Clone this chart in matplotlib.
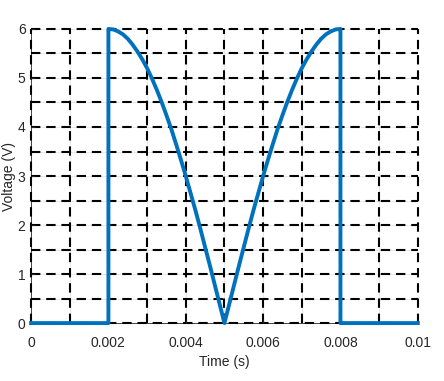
import numpy as np
import matplotlib
matplotlib.use("Agg")
import matplotlib.pyplot as plt

fall_t = [0.002, 0.002125, 0.00225, 0.002375, 0.0025, 0.002625, 0.00275,
          0.002875, 0.003, 0.003125, 0.00325, 0.003375, 0.0035, 0.003625,
          0.00375, 0.003875, 0.004, 0.004125, 0.00425, 0.004375, 0.0045,
          0.004625, 0.00475, 0.004875, 0.005]
fall_v = [6.0, 5.99, 5.95, 5.89, 5.80, 5.68, 5.54, 5.38, 5.20, 4.99, 4.76,
          4.51, 4.24, 3.96, 3.65, 3.33, 3.00, 2.65, 2.30, 1.93, 1.55, 1.17,
          0.78, 0.39, 0.0]
# rising half 0.005 s .. 0.008 s is the mirror image
rise_t = [0.01 - x for x in fall_t[::-1]]
rise_v = fall_v[::-1]

t = [0, 0.002] + fall_t + rise_t[1:] + [0.008, 0.01]
v = [0, 0] + fall_v + rise_v[1:] + [0, 0]

xticks = [0, 0.002, 0.004, 0.006, 0.008, 0.01]
xticklabels = ["0", "0.002", "0.004", "0.006", "0.008", "0.01"]
yticks = [0, 1, 2, 3, 4, 5, 6]

plt.rcParams['font.family'] = ['Liberation Sans', 'DejaVu Sans']
fig = plt.figure(figsize=(4.44, 3.81), dpi=100)
ax = fig.add_axes([0.070, 0.152, 0.871, 0.772])

dash = (0, (4.5, 2.8))
# faint solid grid under the dashed one
for x in np.arange(0, 0.0101, 0.001):
    ax.axvline(x, color='#e6e6e6', lw=0.6, zorder=0)
    ax.axvline(x, color='black', lw=1.5, ls=dash, zorder=1, clip_on=False)
for y in np.arange(0, 6.01, 0.5):
    ax.axhline(y, color='#e6e6e6', lw=0.6, zorder=0)
    ax.axhline(y, color='black', lw=1.5, ls=dash, zorder=1, clip_on=False)

ax.plot(t, v, color='#0072BD', lw=2.8, zorder=3, clip_on=False)

ax.set_xlim(0, 0.01)
ax.set_ylim(0, 6)
ax.set_xticks(xticks)
ax.set_xticklabels(xticklabels)
ax.set_yticks(yticks)
ax.tick_params(direction='in', length=3, labelsize=10, colors='#262626',
               top=False, right=False, pad=4)
ax.tick_params(axis='x', pad=9)
ax.set_xlabel("Time (s)", fontsize=10, color='#262626', labelpad=4)
ax.set_ylabel("Voltage (V)", fontsize=10, color='#262626', labelpad=1)
for side in ('top', 'right'):
    ax.spines[side].set_visible(False)
for side in ('left', 'bottom'):
    ax.spines[side].set_color('#262626')
    ax.spines[side].set_linewidth(0.6)
    ax.spines[side].set_zorder(0.5)

fig.savefig("out.png", dpi=100)
